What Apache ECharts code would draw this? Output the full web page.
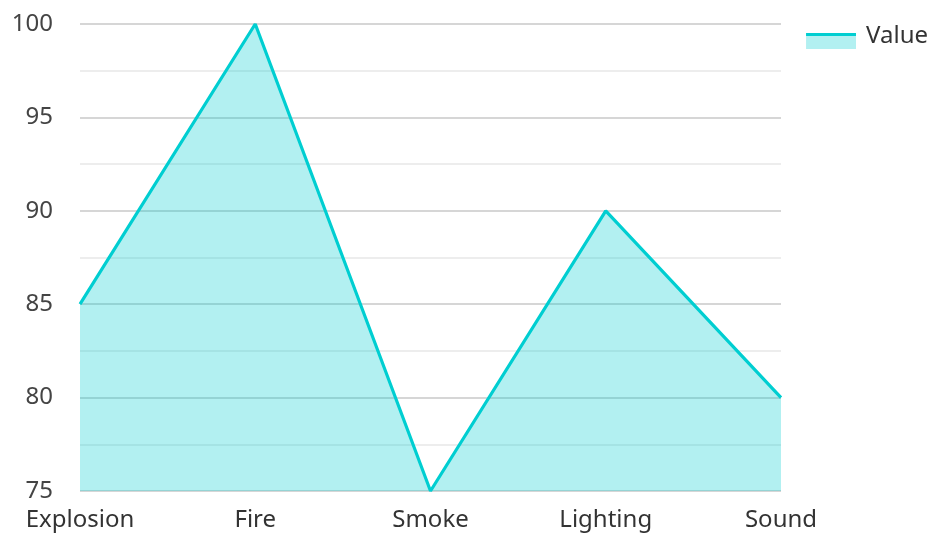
<!DOCTYPE html>
<html>
<head>
<meta charset="utf-8">
<script src="https://cdn.jsdelivr.net/npm/echarts@6/dist/echarts.min.js"></script>
<style>
  html, body { margin: 0; padding: 0; background: #fff; }
  #chart { width: 930px; height: 533px; }
</style>
</head>
<body>
<div id="chart"></div>
<script>
const categories = ['Explosion', 'Fire', 'Smoke', 'Lighting', 'Sound'];
const values = [85, 100, 75, 90, 80];
const seriesName = 'Value';

const lineColor = '#00CED1';
const areaColor = 'rgba(0,206,209,0.3)';
const font = '"Noto Sans", "Open Sans", sans-serif';

// Legend swatch: a line stroke on top of a filled area band (sits in the lower part of the icon box)
const swatchSvg =
  '<svg xmlns="http://www.w3.org/2000/svg" width="50" height="25" viewBox="0 0 50 25">' +
  '<rect x="0" y="9" width="50" height="16" fill="' + areaColor + '"/>' +
  '<rect x="0" y="9" width="50" height="3" fill="' + lineColor + '"/>' +
  '</svg>';
const swatchIcon = 'image://data:image/svg+xml;charset=utf-8,' + encodeURIComponent(swatchSvg);

const chart = echarts.init(document.getElementById('chart'), null, { renderer: 'canvas' });

chart.setOption({
  animation: false,
  textStyle: { fontFamily: font },
  legend: {
    right: 2,
    top: 24,
    padding: 0,
    itemWidth: 50,
    itemHeight: 25,
    itemGap: 10,
    textStyle: { fontSize: 24, color: '#333', fontFamily: font, padding: [0, 0, 0, 5] },
    data: [{ name: seriesName, icon: swatchIcon }]
  },
  grid: { left: 80, right: 149, top: 24, bottom: 42, containLabel: false },
  xAxis: {
    type: 'category',
    data: categories,
    boundaryGap: false,
    axisLine: { show: false },
    axisTick: { show: false },
    axisLabel: { fontSize: 24, color: '#333', margin: 17, fontFamily: font }
  },
  yAxis: {
    type: 'value',
    min: 75,
    max: 100,
    interval: 5,
    axisLine: { show: false },
    axisTick: { show: false },
    axisLabel: { fontSize: 24, color: '#444', margin: 27, fontFamily: font },
    splitLine: { lineStyle: { color: '#c8c8c8', width: 1.5 } },
    minorTick: { show: false, splitNumber: 2 },
    minorSplitLine: { show: true, lineStyle: { color: '#e8e8e8', width: 1.5 } }
  },
  series: [{
    name: seriesName,
    type: 'line',
    data: values,
    showSymbol: false,
    symbol: 'none',
    lineStyle: { color: lineColor, width: 3.2 },
    itemStyle: { color: lineColor },
    areaStyle: { color: lineColor, opacity: 0.3 }
  }]
});
</script>
</body>
</html>
